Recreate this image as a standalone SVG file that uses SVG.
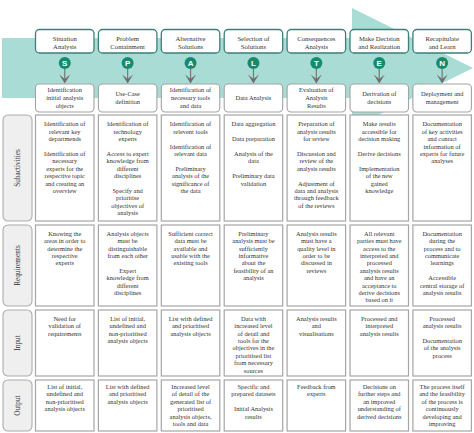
<svg xmlns="http://www.w3.org/2000/svg" width="474" height="433" viewBox="0 0 474 433">
<style>
.t{font-family:"Liberation Serif","Times New Roman",serif;font-size:6.4px;fill:#333;text-anchor:middle}
.th{font-family:"Liberation Serif","Times New Roman",serif;font-size:6.7px;fill:#333;text-anchor:middle}
.tl{font-family:"Liberation Serif","Times New Roman",serif;font-size:7.3px;fill:#333;text-anchor:middle}
.hb{fill:#fff;stroke:#3d7f78;stroke-width:1.3}
.sb{fill:#fff;stroke:#a3a3a3;stroke-width:1.1}
.cell{fill:#fff;stroke:#a6a6a6;stroke-width:1.2}
.lab{fill:#efefef;stroke:#acacac;stroke-width:1.1}
.circ{fill:#17896f}
.let{font-family:"Liberation Sans",Arial,sans-serif;font-size:8px;font-weight:bold;fill:#fff;text-anchor:middle}
.stem{stroke:#777;stroke-width:1.2}
.chev{fill:#6f6f6f}
</style>
<g id="flow-arrow">
<polygon points="2,38 352,38 352,8 473,68 352,128 352,98 2,98" fill="#a8dcd4"/>
</g>
<g id="step-S">
<rect class="hb" x="35.5" y="29.5" width="58.5" height="23.5" rx="4"/>
<text class="th" x="64.75" y="40.5">Situation<tspan x="64.75" dy="8">Analysis</tspan></text>
<circle class="circ" cx="64.75" cy="63" r="6"/><text class="let" x="64.75" y="65.8">S</text>
</g>
<g id="step-P">
<rect class="hb" x="98.4" y="29.5" width="58.5" height="23.5" rx="4"/>
<text class="th" x="127.65" y="40.5">Problem<tspan x="127.65" dy="8">Containment</tspan></text>
<circle class="circ" cx="127.65" cy="63" r="6"/><text class="let" x="127.65" y="65.8">P</text>
</g>
<g id="step-A">
<rect class="hb" x="161.3" y="29.5" width="58.5" height="23.5" rx="4"/>
<text class="th" x="190.55" y="40.5">Alternative<tspan x="190.55" dy="8">Solutions</tspan></text>
<circle class="circ" cx="190.55" cy="63" r="6"/><text class="let" x="190.55" y="65.8">A</text>
</g>
<g id="step-L">
<rect class="hb" x="224.2" y="29.5" width="58.5" height="23.5" rx="4"/>
<text class="th" x="253.45" y="40.5">Selection of<tspan x="253.45" dy="8">Solutions</tspan></text>
<circle class="circ" cx="253.45" cy="63" r="6"/><text class="let" x="253.45" y="65.8">L</text>
</g>
<g id="step-T">
<rect class="hb" x="287.1" y="29.5" width="58.5" height="23.5" rx="4"/>
<text class="th" x="316.35" y="40.5">Consequences<tspan x="316.35" dy="8">Analysis</tspan></text>
<circle class="circ" cx="316.35" cy="63" r="6"/><text class="let" x="316.35" y="65.8">T</text>
</g>
<g id="step-E">
<rect class="hb" x="350" y="29.5" width="58.5" height="23.5" rx="4"/>
<text class="th" x="379.25" y="40.5">Make Decision<tspan x="379.25" dy="8">and Realization</tspan></text>
<circle class="circ" cx="379.25" cy="63" r="6"/><text class="let" x="379.25" y="65.8">E</text>
</g>
<g id="step-N">
<rect class="hb" x="412.9" y="29.5" width="58.5" height="23.5" rx="4"/>
<text class="th" x="442.15" y="40.5">Recapitulate<tspan x="442.15" dy="8">and Learn</tspan></text>
<circle class="circ" cx="442.15" cy="63" r="6"/><text class="let" x="442.15" y="65.8">N</text>
</g>
<g id="connectors">
<line class="stem" x1="64.75" y1="69" x2="64.75" y2="79"/><polygon class="chev" points="59.25,74.5 64.75,79 70.25,74.5 64.75,83.5"/>
<line class="stem" x1="127.65" y1="69" x2="127.65" y2="79"/><polygon class="chev" points="122.15,74.5 127.65,79 133.15,74.5 127.65,83.5"/>
<line class="stem" x1="190.55" y1="69" x2="190.55" y2="79"/><polygon class="chev" points="185.05,74.5 190.55,79 196.05,74.5 190.55,83.5"/>
<line class="stem" x1="253.45" y1="69" x2="253.45" y2="79"/><polygon class="chev" points="247.95,74.5 253.45,79 258.95,74.5 253.45,83.5"/>
<line class="stem" x1="316.35" y1="69" x2="316.35" y2="79"/><polygon class="chev" points="310.85,74.5 316.35,79 321.85,74.5 316.35,83.5"/>
<line class="stem" x1="379.25" y1="69" x2="379.25" y2="79"/><polygon class="chev" points="373.75,74.5 379.25,79 384.75,74.5 379.25,83.5"/>
<line class="stem" x1="442.15" y1="69" x2="442.15" y2="79"/><polygon class="chev" points="436.65,74.5 442.15,79 447.65,74.5 442.15,83.5"/>
</g>
<g id="goal-1">
<rect class="sb" x="35.5" y="84" width="58.5" height="28" rx="4"/>
<text class="t" x="64.75" y="92.3">Identification<tspan x="64.75" dy="7.9">initial analysis</tspan><tspan x="64.75" dy="7.9">objects</tspan></text>
</g>
<g id="goal-2">
<rect class="sb" x="98.4" y="84" width="58.5" height="28" rx="4"/>
<text class="t" x="127.65" y="96.3">Use-Case<tspan x="127.65" dy="7.9">definition</tspan></text>
</g>
<g id="goal-3">
<rect class="sb" x="161.3" y="84" width="58.5" height="28" rx="4"/>
<text class="t" x="190.55" y="92.3">Identification of<tspan x="190.55" dy="7.9">necessary tools</tspan><tspan x="190.55" dy="7.9">and data</tspan></text>
</g>
<g id="goal-4">
<rect class="sb" x="224.2" y="84" width="58.5" height="28" rx="4"/>
<text class="t" x="253.45" y="100.3">Data Analysis</text>
</g>
<g id="goal-5">
<rect class="sb" x="287.1" y="84" width="58.5" height="28" rx="4"/>
<text class="t" x="316.35" y="92.3">Evaluation of<tspan x="316.35" dy="7.9">Analysis</tspan><tspan x="316.35" dy="7.9">Results</tspan></text>
</g>
<g id="goal-6">
<rect class="sb" x="350" y="84" width="58.5" height="28" rx="4"/>
<text class="t" x="379.25" y="96.3">Derivation of<tspan x="379.25" dy="7.9">decisions</tspan></text>
</g>
<g id="goal-7">
<rect class="sb" x="412.9" y="84" width="58.5" height="28" rx="4"/>
<text class="t" x="442.15" y="96.3">Deployment and<tspan x="442.15" dy="7.9">management</tspan></text>
</g>

<g id="label-subactivities">
<rect class="lab" x="3" y="115" width="29" height="106" rx="5"/>
<text class="tl" transform="translate(20,168) rotate(-90)">Subactivities</text>
</g>
<g id="label-requirements">
<rect class="lab" x="3" y="225" width="29" height="81" rx="5"/>
<text class="tl" transform="translate(20,265.5) rotate(-90)">Requirements</text>
</g>
<g id="label-input">
<rect class="lab" x="3" y="310" width="29" height="66" rx="5"/>
<text class="tl" transform="translate(20,343) rotate(-90)">Input</text>
</g>
<g id="label-output">
<rect class="lab" x="3" y="380" width="29" height="51" rx="5"/>
<text class="tl" transform="translate(20,405.5) rotate(-90)">Output</text>
</g>

<g id="sub-1"><rect class="cell" x="35.5" y="115" width="58.5" height="106"/>
<text class="t" x="64.75" y="126.3">Identification of<tspan x="64.75" dy="7.4">relevant key</tspan><tspan x="64.75" dy="7.4">departmends</tspan><tspan x="64.75" dy="14.8">Identification of</tspan><tspan x="64.75" dy="7.4">necessary</tspan><tspan x="64.75" dy="7.4">experts for the</tspan><tspan x="64.75" dy="7.4">respective topic</tspan><tspan x="64.75" dy="7.4">and creating an</tspan><tspan x="64.75" dy="7.4">overview</tspan></text></g>
<g id="sub-2"><rect class="cell" x="98.4" y="115" width="58.5" height="106"/>
<text class="t" x="127.65" y="126.3">Identification of<tspan x="127.65" dy="7.4">technology</tspan><tspan x="127.65" dy="7.4">experts</tspan><tspan x="127.65" dy="14.8">Access to expert</tspan><tspan x="127.65" dy="7.4">knowledge from</tspan><tspan x="127.65" dy="7.4">different</tspan><tspan x="127.65" dy="7.4">disciplines</tspan><tspan x="127.65" dy="14.8">Specify and</tspan><tspan x="127.65" dy="7.4">prioritise</tspan><tspan x="127.65" dy="7.4">objectives  of</tspan><tspan x="127.65" dy="7.4">analysis</tspan></text></g>
<g id="sub-3"><rect class="cell" x="161.3" y="115" width="58.5" height="106"/>
<text class="t" x="190.55" y="126.3">Identification of<tspan x="190.55" dy="7.4">relevent tools</tspan><tspan x="190.55" dy="14.8">Identification of</tspan><tspan x="190.55" dy="7.4">relevant data</tspan><tspan x="190.55" dy="14.8">Preliminary</tspan><tspan x="190.55" dy="7.4">analysis of the</tspan><tspan x="190.55" dy="7.4">significance of</tspan><tspan x="190.55" dy="7.4">the data</tspan></text></g>
<g id="sub-4"><rect class="cell" x="224.2" y="115" width="58.5" height="106"/>
<text class="t" x="253.45" y="126.3">Data aggregation<tspan x="253.45" dy="14.8">Data preparation</tspan><tspan x="253.45" dy="14.8">Analysis of the</tspan><tspan x="253.45" dy="7.4">data</tspan><tspan x="253.45" dy="14.8">Preliminary data</tspan><tspan x="253.45" dy="7.4">validation</tspan></text></g>
<g id="sub-5"><rect class="cell" x="287.1" y="115" width="58.5" height="106"/>
<text class="t" x="316.35" y="126.3">Preparation of<tspan x="316.35" dy="7.4">analysis results</tspan><tspan x="316.35" dy="7.4">for review</tspan><tspan x="316.35" dy="14.8">Discussion and</tspan><tspan x="316.35" dy="7.4">review of the</tspan><tspan x="316.35" dy="7.4">analysis results</tspan><tspan x="316.35" dy="14.8">Adjustment of</tspan><tspan x="316.35" dy="7.4">data and analysis</tspan><tspan x="316.35" dy="7.4">through feedback</tspan><tspan x="316.35" dy="7.4">of the reviews</tspan></text></g>
<g id="sub-6"><rect class="cell" x="350" y="115" width="58.5" height="106"/>
<text class="t" x="379.25" y="126.3">Make results<tspan x="379.25" dy="7.4">accessible for</tspan><tspan x="379.25" dy="7.4">decision making</tspan><tspan x="379.25" dy="14.8">Derive decisions</tspan><tspan x="379.25" dy="14.8">Implementation</tspan><tspan x="379.25" dy="7.4">of the new</tspan><tspan x="379.25" dy="7.4">gained</tspan><tspan x="379.25" dy="7.4">knowledge</tspan></text></g>
<g id="sub-7"><rect class="cell" x="412.9" y="115" width="58.5" height="106"/>
<text class="t" x="442.15" y="126.3">Documentation<tspan x="442.15" dy="7.4">of key activities</tspan><tspan x="442.15" dy="7.4">and contact</tspan><tspan x="442.15" dy="7.4">information of</tspan><tspan x="442.15" dy="7.4">experts for future</tspan><tspan x="442.15" dy="7.4">analyses</tspan></text></g>

<g id="req-1"><rect class="cell" x="35.5" y="225" width="58.5" height="81"/>
<text class="t" x="64.75" y="235.7">Knowing the<tspan x="64.75" dy="7.4">areas in order to</tspan><tspan x="64.75" dy="7.4">determine the</tspan><tspan x="64.75" dy="7.4">respective</tspan><tspan x="64.75" dy="7.4">experts</tspan></text></g>
<g id="req-2"><rect class="cell" x="98.4" y="225" width="58.5" height="81"/>
<text class="t" x="127.65" y="235.7">Analysis objects<tspan x="127.65" dy="7.4">must be</tspan><tspan x="127.65" dy="7.4">distinguishable</tspan><tspan x="127.65" dy="7.4">from each other</tspan><tspan x="127.65" dy="14.8">Expert</tspan><tspan x="127.65" dy="7.4">knowledge from</tspan><tspan x="127.65" dy="7.4">different</tspan><tspan x="127.65" dy="7.4">disciplines</tspan></text></g>
<g id="req-3"><rect class="cell" x="161.3" y="225" width="58.5" height="81"/>
<text class="t" x="190.55" y="235.7">Sufficient correct<tspan x="190.55" dy="7.4">data must be</tspan><tspan x="190.55" dy="7.4">available and</tspan><tspan x="190.55" dy="7.4">usable with the</tspan><tspan x="190.55" dy="7.4">existing tools</tspan></text></g>
<g id="req-4"><rect class="cell" x="224.2" y="225" width="58.5" height="81"/>
<text class="t" x="253.45" y="235.7">Preliminary<tspan x="253.45" dy="7.4">analysis must be</tspan><tspan x="253.45" dy="7.4">sufficiently</tspan><tspan x="253.45" dy="7.4">informative</tspan><tspan x="253.45" dy="7.4">about the</tspan><tspan x="253.45" dy="7.4">feasibility of an</tspan><tspan x="253.45" dy="7.4">analysis</tspan></text></g>
<g id="req-5"><rect class="cell" x="287.1" y="225" width="58.5" height="81"/>
<text class="t" x="316.35" y="235.7">Analysis results<tspan x="316.35" dy="7.4">must have a</tspan><tspan x="316.35" dy="7.4">quality level in</tspan><tspan x="316.35" dy="7.4">order to be</tspan><tspan x="316.35" dy="7.4">discussed in</tspan><tspan x="316.35" dy="7.4">reviews</tspan></text></g>
<g id="req-6"><rect class="cell" x="350" y="225" width="58.5" height="81"/>
<text class="t" x="379.25" y="235.7">All relevant<tspan x="379.25" dy="7.4">parties must have</tspan><tspan x="379.25" dy="7.4">access to the</tspan><tspan x="379.25" dy="7.4">interpreted and</tspan><tspan x="379.25" dy="7.4">processed</tspan><tspan x="379.25" dy="7.4">analysis results</tspan><tspan x="379.25" dy="7.4">and have an</tspan><tspan x="379.25" dy="7.4">acceptance to</tspan><tspan x="379.25" dy="7.4">derive decisions</tspan><tspan x="379.25" dy="7.4">based on it</tspan></text></g>
<g id="req-7"><rect class="cell" x="412.9" y="225" width="58.5" height="81"/>
<text class="t" x="442.15" y="235.7">Documentation<tspan x="442.15" dy="7.4">during the</tspan><tspan x="442.15" dy="7.4">process and to</tspan><tspan x="442.15" dy="7.4">communicate</tspan><tspan x="442.15" dy="7.4">learnings</tspan><tspan x="442.15" dy="14.8">Accessible</tspan><tspan x="442.15" dy="7.4">central storage of</tspan><tspan x="442.15" dy="7.4">analysis results</tspan></text></g>

<g id="in-1"><rect class="cell" x="35.5" y="310" width="58.5" height="66"/>
<text class="t" x="64.75" y="320.7">Need for<tspan x="64.75" dy="7.4">validation of</tspan><tspan x="64.75" dy="7.4">requirements</tspan></text></g>
<g id="in-2"><rect class="cell" x="98.4" y="310" width="58.5" height="66"/>
<text class="t" x="127.65" y="320.7">List of initial,<tspan x="127.65" dy="7.4">undefined and</tspan><tspan x="127.65" dy="7.4">non-prioritised</tspan><tspan x="127.65" dy="7.4">analysis objects</tspan></text></g>
<g id="in-3"><rect class="cell" x="161.3" y="310" width="58.5" height="66"/>
<text class="t" x="190.55" y="320.7">List with defined<tspan x="190.55" dy="7.4">and prioritised</tspan><tspan x="190.55" dy="7.4">analysis objects</tspan></text></g>
<g id="in-4"><rect class="cell" x="224.2" y="310" width="58.5" height="66"/>
<text class="t" x="253.45" y="320.7">Data with<tspan x="253.45" dy="7.4">increased level</tspan><tspan x="253.45" dy="7.4">of detail and</tspan><tspan x="253.45" dy="7.4">tools for the</tspan><tspan x="253.45" dy="7.4">objectives in the</tspan><tspan x="253.45" dy="7.4">prioritised list</tspan><tspan x="253.45" dy="7.4">from necessary</tspan><tspan x="253.45" dy="7.4">sources</tspan></text></g>
<g id="in-5"><rect class="cell" x="287.1" y="310" width="58.5" height="66"/>
<text class="t" x="316.35" y="320.7">Analysis results<tspan x="316.35" dy="7.4">and</tspan><tspan x="316.35" dy="7.4">visualisations</tspan></text></g>
<g id="in-6"><rect class="cell" x="350" y="310" width="58.5" height="66"/>
<text class="t" x="379.25" y="320.7">Processed and<tspan x="379.25" dy="7.4">interpreted</tspan><tspan x="379.25" dy="7.4">analysis results</tspan></text></g>
<g id="in-7"><rect class="cell" x="412.9" y="310" width="58.5" height="66"/>
<text class="t" x="442.15" y="320.7">Processed<tspan x="442.15" dy="7.4">analysis results</tspan><tspan x="442.15" dy="14.8">Documentation</tspan><tspan x="442.15" dy="7.4">of the analysis</tspan><tspan x="442.15" dy="7.4">process</tspan></text></g>

<g id="out-1"><rect class="cell" x="35.5" y="380" width="58.5" height="51"/>
<text class="t" x="64.75" y="389">List of initial,<tspan x="64.75" dy="7.4">undefined and</tspan><tspan x="64.75" dy="7.4">non-prioritised</tspan><tspan x="64.75" dy="7.4">analysis objects</tspan></text></g>
<g id="out-2"><rect class="cell" x="98.4" y="380" width="58.5" height="51"/>
<text class="t" x="127.65" y="389">List with defined<tspan x="127.65" dy="7.4">and prioritised</tspan><tspan x="127.65" dy="7.4">analysis objects</tspan></text></g>
<g id="out-3"><rect class="cell" x="161.3" y="380" width="58.5" height="51"/>
<text class="t" x="190.55" y="389">Increased level<tspan x="190.55" dy="7.4">of detail of the</tspan><tspan x="190.55" dy="7.4">generated list of</tspan><tspan x="190.55" dy="7.4">prioritised</tspan><tspan x="190.55" dy="7.4">analysis objects,</tspan><tspan x="190.55" dy="7.4">tools and data</tspan></text></g>
<g id="out-4"><rect class="cell" x="224.2" y="380" width="58.5" height="51"/>
<text class="t" x="253.45" y="389">Specific and<tspan x="253.45" dy="7.4">prepared datasets</tspan><tspan x="253.45" dy="14.8">Initial Analysis</tspan><tspan x="253.45" dy="7.4">results</tspan></text></g>
<g id="out-5"><rect class="cell" x="287.1" y="380" width="58.5" height="51"/>
<text class="t" x="316.35" y="389">Feedback from<tspan x="316.35" dy="7.4">experts</tspan></text></g>
<g id="out-6"><rect class="cell" x="350" y="380" width="58.5" height="51"/>
<text class="t" x="379.25" y="389">Decisions on<tspan x="379.25" dy="7.4">further steps and</tspan><tspan x="379.25" dy="7.4">an improved</tspan><tspan x="379.25" dy="7.4">understanding of</tspan><tspan x="379.25" dy="7.4">derived decisions</tspan></text></g>
<g id="out-7"><rect class="cell" x="412.9" y="380" width="58.5" height="51"/>
<text class="t" x="442.15" y="389">The process itself<tspan x="442.15" dy="7.4">and the feasibility</tspan><tspan x="442.15" dy="7.4">of the process is</tspan><tspan x="442.15" dy="7.4">continuously</tspan><tspan x="442.15" dy="7.4">developing and</tspan><tspan x="442.15" dy="7.4">improving</tspan></text></g>
</svg>
